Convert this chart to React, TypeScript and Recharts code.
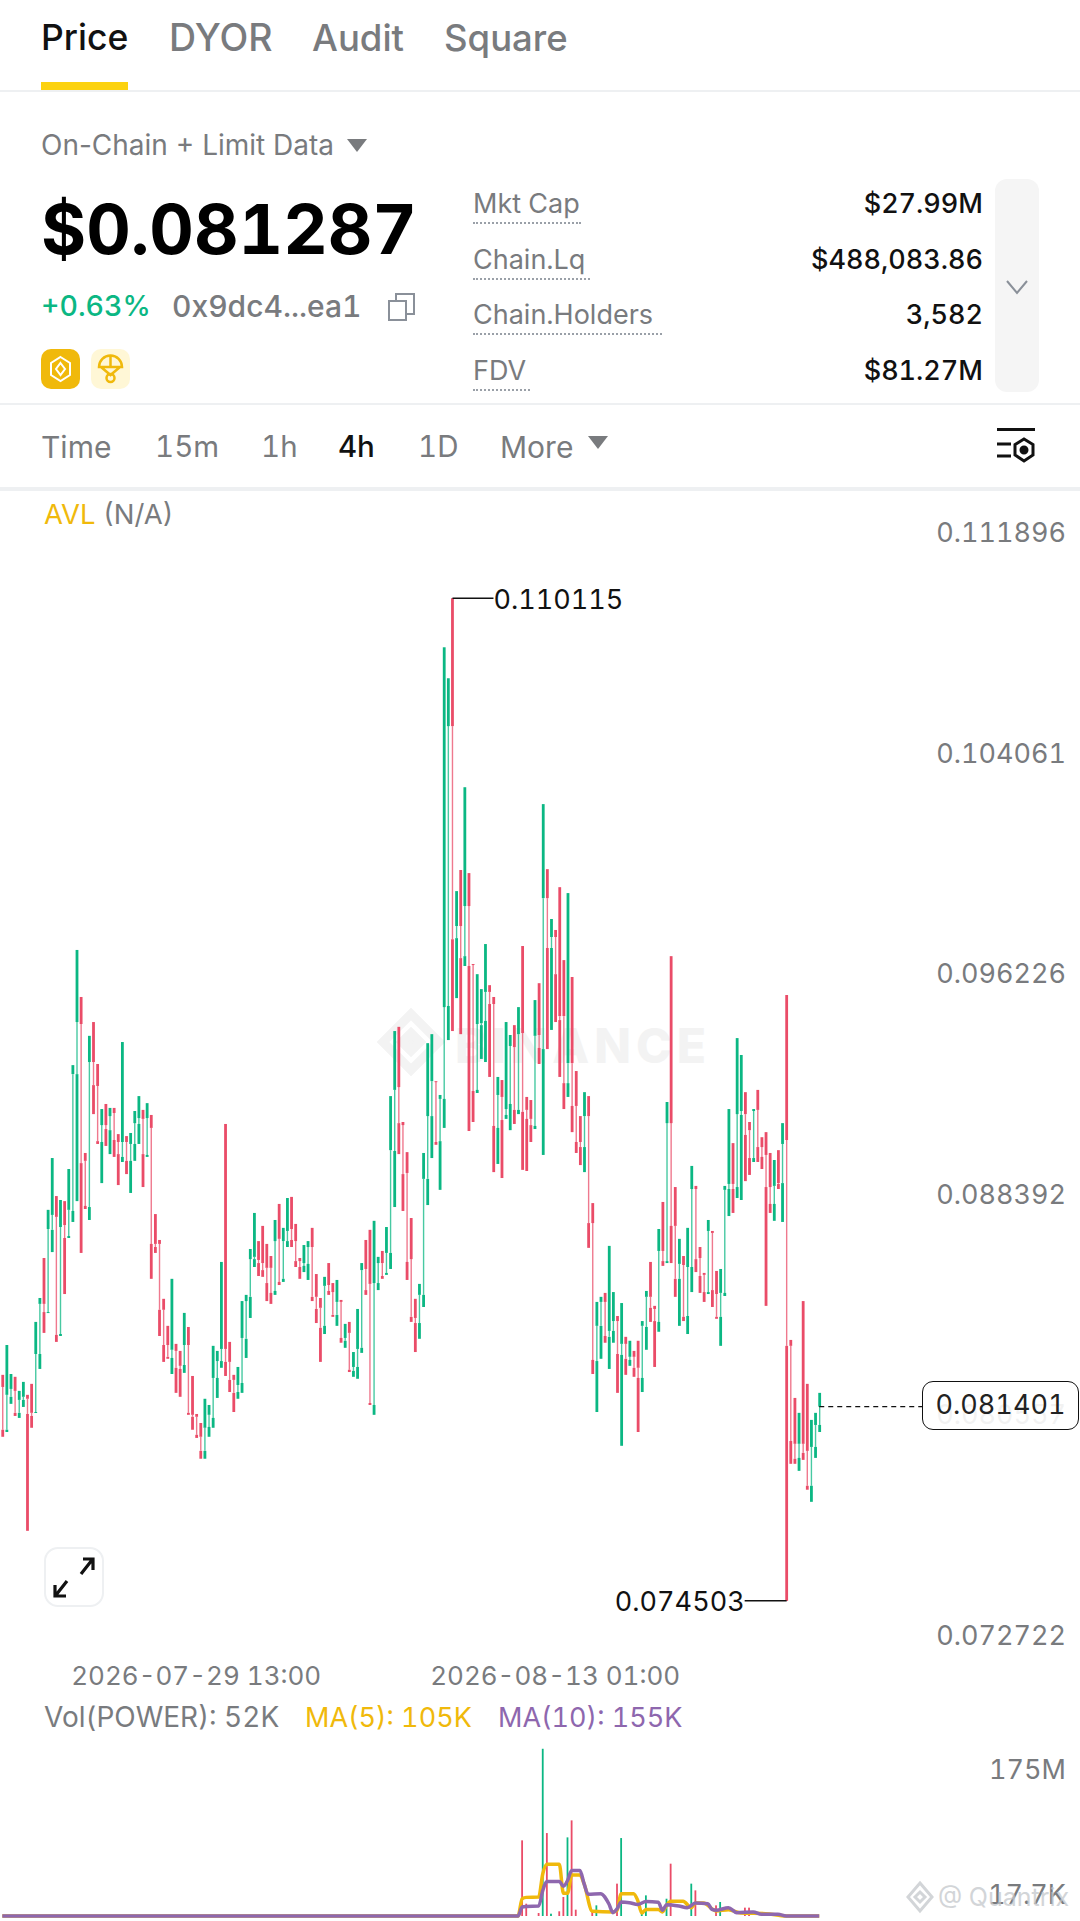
import React from "react";
import { ComposedChart, Bar, Line, XAxis, YAxis, ReferenceLine } from "recharts";

// candle values, in thousandths of a dollar
const highs = [
  82.53,83.59,82.56,82.46,81.96,82.28,81.82,82.21,84.41,85.26,
  86.68,88.39,90.23,88.88,88.74,88.70,89.84,93.53,97.62,95.95,
  90.41,94.57,95.06,93.57,91.97,92.15,92.01,92.01,91.08,94.35,
  91.01,91.12,91.90,92.43,91.94,92.18,91.76,88.24,87.32,85.23,
  84.27,85.94,83.63,83.38,84.73,84.23,82.49,81.14,80.82,81.68,
  81.46,83.56,83.38,86.54,91.44,83.70,82.53,82.81,85.15,85.37,
  87.00,88.28,87.28,87.82,87.18,86.75,88.03,88.60,87.75,88.81,
  88.85,87.89,86.68,87.14,87.28,87.75,86.11,85.26,86.01,86.50,
  85.79,85.90,85.19,84.34,84.41,83.34,84.87,86.50,87.32,87.68,
  88.00,86.72,86.93,87.78,92.43,94.74,94.89,91.51,90.44,88.10,
  85.23,85.76,90.41,94.31,94.63,92.96,92.47,108.37,107.27,110.115,
  99.71,100.46,103.40,100.35,97.12,96.76,96.23,97.83,96.37,95.95,
  93.11,93.00,95.06,94.60,94.95,95.59,97.76,92.40,92.29,95.84,
  96.44,102.80,100.49,98.72,98.33,99.85,97.26,99.64,96.66,93.32,
  91.72,92.57,92.43,88.63,85.12,85.30,85.44,87.11,85.47,84.62,
  85.08,83.88,83.74,83.38,83.74,84.44,85.51,86.54,84.98,87.71,
  88.67,92.22,97.40,89.20,87.36,86.75,87.75,89.95,89.24,87.07,
  86.15,88.03,87.64,86.22,86.29,89.24,91.97,90.76,94.49,93.89,
  92.57,91.51,91.97,92.65,90.97,91.15,90.41,90.16,90.51,91.47,
  96.02,83.77,81.71,81.18,85.15,82.21,80.93,81.18,81.89,
];
const bodyTops = [
  82.10,81.82,82.03,81.96,81.64,81.75,81.68,81.18,83.27,85.05,
  85.05,87.71,88.21,88.14,87.78,87.85,88.39,93.21,95.06,94.99,
  90.13,93.64,93.64,92.79,91.40,91.40,91.72,91.83,90.80,90.80,
  90.80,90.73,91.47,91.65,91.62,91.65,91.30,87.18,87.18,84.84,
  83.59,83.42,83.38,82.85,83.59,83.59,81.11,81.04,80.33,80.65,
  81.11,82.42,83.02,83.45,83.45,82.99,82.35,82.17,83.84,85.15,
  86.64,86.72,86.61,86.50,86.33,86.33,87.28,87.36,87.28,87.64,
  87.71,87.28,86.57,86.50,87.07,87.07,85.30,84.91,85.69,85.72,
  85.47,85.12,85.12,83.84,84.02,82.81,83.45,86.25,86.29,85.76,
  85.79,86.50,86.50,86.86,90.51,92.65,92.75,91.40,89.70,86.64,
  84.55,85.37,89.49,91.72,92.96,92.93,92.33,95.59,105.57,105.57,
  98.47,98.47,99.18,99.18,97.09,94.99,95.02,96.13,96.13,95.70,
  92.47,92.40,91.97,94.21,94.17,94.63,94.67,91.94,91.62,94.57,
  94.60,99.46,99.46,98.08,98.08,95.27,95.27,93.60,93.60,92.08,
  90.80,91.72,91.72,87.92,84.27,85.12,85.12,84.09,84.44,84.44,
  83.63,83.63,83.17,83.17,82.78,84.27,85.30,85.30,84.87,86.93,
  86.93,91.47,91.47,87.82,86.47,86.43,86.36,89.13,89.13,86.68,
  86.08,87.64,87.57,85.40,85.44,89.10,89.31,89.31,91.79,91.90,
  91.79,91.22,91.90,91.94,90.62,90.34,89.20,89.24,89.34,90.73,
  90.87,83.56,80.08,80.08,80.08,79.83,79.97,80.75,81.40,
];
const bodyBottoms = [
  80.58,80.58,81.75,81.18,81.18,81.64,81.14,81.07,81.21,83.27,
  84.76,84.76,87.68,83.95,83.98,87.39,87.46,88.35,93.21,90.05,
  88.53,88.49,92.82,90.83,90.80,91.26,91.22,90.87,90.37,90.27,
  90.13,90.13,90.73,91.44,90.37,90.34,87.18,87.07,84.84,83.59,
  83.17,83.13,82.78,82.74,82.88,81.18,81.04,80.40,79.83,79.83,
  80.68,81.00,82.42,83.02,82.99,82.35,81.89,81.92,82.24,83.81,
  85.30,86.64,86.50,86.25,85.79,85.44,85.51,85.83,85.94,87.28,
  87.32,86.57,86.36,86.40,86.47,85.30,84.87,84.20,84.27,85.51,
  84.66,84.66,83.84,83.74,82.71,82.67,82.81,83.49,85.54,81.53,
  81.46,85.79,86.04,86.15,86.86,90.48,91.47,89.66,86.54,84.59,
  84.37,84.37,85.37,89.49,91.72,90.80,90.83,92.33,95.63,98.00,
  98.04,97.33,97.40,97.05,92.61,92.65,94.95,95.10,95.70,91.37,
  91.30,91.58,91.76,92.15,91.94,91.94,91.87,91.62,91.40,91.37,
  94.14,94.10,97.69,97.69,96.76,95.13,92.89,92.89,92.08,90.80,
  90.62,90.62,87.92,83.06,83.02,84.27,83.91,83.88,84.09,83.27,
  83.24,83.10,83.06,82.78,82.42,82.42,84.23,84.91,84.44,84.41,
  86.57,86.57,87.82,85.94,85.94,84.59,84.62,86.36,86.64,86.04,
  85.47,85.47,85.54,84.59,84.59,85.44,89.13,89.13,89.20,91.76,
  91.05,90.23,90.23,90.62,90.27,89.20,88.60,88.60,89.31,89.34,
  83.56,80.18,79.55,79.58,79.76,78.59,78.59,79.97,80.75,
];
const lows = [
  80.33,80.50,81.50,81.07,81.00,81.39,76.99,80.65,81.18,82.74,
  84.02,84.73,86.89,83.70,83.91,85.40,87.39,87.96,88.70,86.86,
  88.42,88.03,91.79,90.73,89.34,90.66,90.37,90.27,89.27,90.09,
  89.66,88.99,90.13,90.73,89.20,90.27,85.94,86.86,83.91,82.99,
  83.10,82.56,81.89,81.75,82.60,81.11,80.58,80.29,79.55,79.55,
  80.33,80.65,81.71,82.78,82.49,81.92,81.21,81.68,81.89,83.13,
  84.55,86.36,86.04,86.01,85.15,85.05,85.37,85.72,85.83,87.07,
  87.07,86.36,85.94,86.18,85.90,85.15,84.37,82.99,83.98,85.37,
  84.59,84.27,83.67,83.49,82.63,82.46,82.39,83.31,85.37,81.46,
  81.11,85.54,85.94,86.08,86.29,88.49,90.37,88.35,85.90,84.41,
  83.34,83.81,84.94,88.56,90.23,90.70,89.10,91.30,94.42,94.74,
  95.91,94.63,97.05,91.19,91.51,92.54,93.75,93.64,93.11,89.73,
  90.02,89.52,91.62,91.22,91.44,91.79,89.81,89.77,90.80,91.26,
  93.57,90.34,94.10,94.78,95.06,93.11,91.97,92.40,91.15,90.41,
  89.98,89.73,87.04,82.56,81.21,83.10,83.67,82.74,83.67,81.89,
  80.01,82.53,82.85,82.46,80.50,81.92,83.42,84.41,82.81,84.06,
  86.40,86.50,86.50,85.30,84.27,84.44,83.98,85.47,86.18,85.44,
  85.12,85.40,84.94,84.52,83.56,85.33,88.17,88.28,88.81,88.74,
  89.41,89.63,90.09,90.09,89.84,84.98,88.28,88.00,89.13,87.96,
  74.503,79.37,79.37,79.12,79.51,78.45,78.02,79.58,80.50,
];
const directions =
  "RGGRGGRRGG" + "RGGRGRGGGR" + "RGRRGRGRRG" + "RGGGRGRRRR" + "RGRRGRRRRG" +
  "GGGGRRRGGG" + "GGRRRRGRGG" + "RRRGGRRRGR" + "RGRGRGGGRR" + "GGRGGGRRRR" +
  "RGGGGRGGGR" + "GRGRRGGGRR" + "GRGGRGRRRG" + "RGRGRRRGRR" + "RGRRGGRGGR" +
  "GRGRRGGRRG" + "RGRRGRGGRR" + "RGRRGGGRGG" + "RRGRRRRGRG" + "RRRGRRGGG";

const priceTicks = [111.896, 104.061, 96.226, 88.392, 80.557, 72.722];
const lastPrice = 81.401;
const dateTicks = [47, 134];
const dateLabels = ["2026-07-29 13:00", "2026-08-13 01:00"];

// volume, in millions
const volumeIndex = [126,127,130,131,132,133,135,136,137,138,139,143,144,149,150,155,156,161,162,167,168,173,174,180,181];
const volumeValues = [78.8,12.8,3.1,174.2,86.4,2.4,4.9,19.8,81.9,99.6,6.6,4.2,11.1,33.7,81.2,4.2,21.5,18,54.5,33.7,26.7,11.1,14.6,8.7,8.7];
const ma5Index = [0,125,126,127,130,131,132,135,136,137,138,140,141,143,148,149,150,153,154,155,156,159,160,161,162,165,167,168,170,172,173,176,179,185,190,198];
const ma5Values = [0,0,18,19.4,19.8,44,53.8,53.8,23.6,23.6,42.7,42.7,33.7,4.9,4.2,5.9,23.3,23.3,16.3,3.1,6.9,6.9,4.2,11,15.3,15.3,8.7,13.5,13.5,7.6,5.2,6.6,3.1,2.4,0,0];
const ma10Index = [0,125,126,127,130,131,132,135,136,137,138,140,141,142,145,147,148,149,150,152,154,156,159,160,161,164,166,167,168,171,172,173,176,178,182,184,188,190,198];
const ma10Values = [0,0,9.4,10,10.4,26.7,36,36,31,37,47.5,47.5,33.7,22.6,23.3,12.8,3.5,7.6,14.6,13.9,12.1,15,14.3,5.9,11.8,10.4,8.7,11,13.5,12.8,6.9,5.9,8.7,3.5,4.2,1.7,1.7,0,0];
const volumeTicks = [175, 0.0177];
const volumeTickLabels = ["175M", "17.7K"];

const statNames = ["Mkt Cap", "Chain.Lq", "Chain.Holders", "FDV"];
const statValues = ["$27.99M", "$488,083.86", "3,582", "$81.27M"];

const candles = highs.map((high, i) => ({
  i,
  high,
  top: bodyTops[i],
  bottom: bodyBottoms[i],
  low: lows[i],
  up: directions[i] === "G",
}));
const volumeRows = volumeIndex.map((i, k) => ({ i, volume: volumeValues[k], up: directions[i] === "G" }));
const ma5Rows = ma5Index.map((i, k) => ({ i, ma5: ma5Values[k] }));
const ma10Rows = ma10Index.map((i, k) => ({ i, ma10: ma10Values[k] }));

const FONT = "Inter, sans-serif";
const GREEN = "#0BB783";
const RED = "#EA4C68";
const GRAY = "#797B7E";
const YELLOW = "#F0B90B";
const PURPLE = "#8E67AE";
const X_DOMAIN: [number, number] = [-0.557, 261.2];

const maxHigh = Math.max(...highs);
const minLow = Math.min(...lows);

const Candle = (props: any) => {
  const { x, y, width, height, payload } = props;
  const { high, top, bottom, low, up } = payload;
  const cx = x + width / 2;
  const perUnit = height / (high - low);
  const yTop = y + (high - top) * perUnit;
  const yBottom = y + (high - bottom) * perUnit;
  const color = up ? GREEN : RED;
  return (
    <g>
      <line x1={cx} x2={cx} y1={yTop} y2={yBottom} stroke={color} strokeOpacity={0.75} strokeWidth={1.4} />
      <rect x={cx - 1.4} y={y} width={2.8} height={Math.max(yTop - y, 1)} fill={color} />
      <rect x={cx - 1.4} y={yBottom} width={2.8} height={Math.max(y + height - yBottom, 1)} fill={color} />
      {high === maxHigh && (
        <g>
          <line x1={cx} x2={cx + 41} y1={y} y2={y} stroke="#111" strokeWidth={1.5} />
          <text x={cx + 41} y={y + 1} dominantBaseline="central" fontSize={27} fontFamily={FONT} fill="#111">
            {(high / 1000).toFixed(6)}
          </text>
        </g>
      )}
      {low === minLow && (
        <g>
          <line x1={cx} x2={cx - 42} y1={y + height} y2={y + height} stroke="#111" strokeWidth={1.5} />
          <text x={cx - 42} y={y + height + 1} dominantBaseline="central" textAnchor="end" fontSize={27} fontFamily={FONT} fill="#111">
            {(low / 1000).toFixed(6)}
          </text>
        </g>
      )}
    </g>
  );
};

const PriceTick = ({ y, payload }: any) => (
  <text x={1066} y={y - 15.5} textAnchor="end" dominantBaseline="central" fontSize={27} fontFamily={FONT} fill={GRAY}>
    {(payload.value / 1000).toFixed(6)}
  </text>
);

const DateTick = ({ x, y, payload }: any) => (
  <text x={x} y={y + 18} textAnchor="middle" dominantBaseline="central" fontSize={26} fontFamily={FONT} fill={GRAY}>
    {dateLabels[dateTicks.indexOf(payload.value)]}
  </text>
);

const VolumeTick = ({ y, payload }: any) => (
  <text x={1066} y={y + (payload.value > 1 ? 21 : -18)} textAnchor="end" dominantBaseline="central" fontSize={27} fontFamily={FONT} fill={GRAY}>
    {volumeTickLabels[volumeTicks.indexOf(payload.value)]}
  </text>
);

const VolumeBar = (props: any) => {
  const { x, y, width, height, payload } = props;
  return <rect x={x + width / 2 - 0.9} y={y} width={1.8} height={height} fill={payload.up ? GREEN : RED} />;
};

const Txt = ({ x, y, size = 28, color = GRAY, weight = 400, right, plain, children }: any) => (
  <div
    style={{
      position: "absolute",
      top: y,
      ...(right !== undefined ? { right: 1080 - right } : { left: x }),
      transform: "translateY(-50%)",
      fontSize: size,
      color,
      fontWeight: weight,
      whiteSpace: "nowrap",
      lineHeight: 1,
      ...(plain ? { fontVariantNumeric: "normal" } : {}),
    }}
  >
    {children}
  </div>
);

const Rule = ({ y, h = 1.5 }: any) => (
  <div style={{ position: "absolute", left: 0, top: y, width: 1080, height: h, background: "#EEF0F2" }} />
);

const Triangle = ({ x, y }: any) => (
  <svg style={{ position: "absolute", left: x, top: y }} width={20} height={13}>
    <path d="M0 0H20L10 13Z" fill="#797B7E" />
  </svg>
);

const Header = () => (
  <>
    <Txt x={41} y={38} size={35.5} color="#111" weight={500}>Price</Txt>
    <Txt x={169} y={38} size={37.5} weight={500}>DYOR</Txt>
    <Txt x={312} y={38} size={36.5} weight={500}>Audit</Txt>
    <Txt x={444} y={38} size={36.5} weight={500}>Square</Txt>
    <div style={{ position: "absolute", left: 41, top: 82, width: 87, height: 8, background: "#FCD20F" }} />
    <Rule y={90} />

    <Txt x={41} y={145} size={28} plain>On-Chain + Limit Data</Txt>
    <Triangle x={347} y={139} />
    <Txt x={41} y={229} size={69} color="#000" weight={700}>$0.081287</Txt>
    <Txt x={41} y={306} size={28.5} color={GREEN} weight={500}>+0.63%</Txt>
    <Txt x={172} y={306} size={30} weight={500}>0x9dc4...ea1</Txt>
    <svg style={{ position: "absolute", left: 387, top: 292 }} width={30} height={30} fill="none" stroke="#8a9099" strokeWidth={2}>
      <rect x={2} y={9} width={17} height={19} />
      <path d="M9 9V2H27V22H19" />
    </svg>
    <div style={{ position: "absolute", left: 41, top: 349, width: 39, height: 40, borderRadius: 10, background: YELLOW }}>
      <svg width={39} height={40} fill="none" stroke="#fff" strokeWidth={2}>
        <path d="M19.5 8L29 14V26L19.5 32L10 26V14Z M19.5 14L24 20L19.5 26L15 20Z" />
      </svg>
    </div>
    <div style={{ position: "absolute", left: 91, top: 349, width: 39, height: 40, borderRadius: 10, background: "#FFF7D6" }}>
      <svg width={39} height={40} fill="none" stroke={YELLOW} strokeWidth={2.5}>
        <path d="M8 18A11.5 11.5 0 0 1 31 18Z M19.5 7V18 M10 18L19.5 26L29 18" />
        <circle cx={19.5} cy={29} r={4} />
      </svg>
    </div>

    {statNames.map((name, k) => {
      const y = 203 + k * 55.5;
      const widths = [108, 117, 189, 57];
      return (
        <React.Fragment key={name}>
          <Txt x={473} y={y} size={27}>{name}</Txt>
          <div style={{ position: "absolute", left: 473, top: y + 19, width: widths[k], borderTop: "2px dotted #9aa0a8" }} />
          <Txt right={983} y={y} size={27} color="#111" weight={500}>{statValues[k]}</Txt>
        </React.Fragment>
      );
    })}
    <div style={{ position: "absolute", left: 995, top: 179, width: 44, height: 213, borderRadius: 12, background: "#F5F5F5" }} />
    <svg style={{ position: "absolute", left: 1005, top: 278 }} width={24} height={18} fill="none" stroke="#8a9099" strokeWidth={2}>
      <path d="M2 3L12 15L22 3" />
    </svg>
    <Rule y={403} />

    <Txt x={41} y={447} size={30}>Time</Txt>
    <Txt x={155} y={447} size={29.5}>15m</Txt>
    <Txt x={261} y={447} size={29.5}>1h</Txt>
    <Txt x={338} y={447} size={29.5} color="#111" weight={500}>4h</Txt>
    <Txt x={418} y={447} size={29.5}>1D</Txt>
    <Txt x={500} y={447} size={30}>More</Txt>
    <Triangle x={588} y={436} />
    <svg style={{ position: "absolute", left: 995, top: 426 }} width={42} height={38} fill="none" stroke="#111" strokeWidth={3}>
      <path d="M2 3.5H40 M2 18H16 M2 30H16" />
      <path d="M29 13L38 18.5V29L29 35L20 29V18.5Z" />
      <circle cx={29} cy={24} r={3} fill="#111" />
    </svg>
    <Rule y={487} h={4} />

    <Txt x={44} y={515} size={27.5} color={YELLOW}>AVL <span style={{ color: GRAY }}>(N/A)</span></Txt>

    <svg style={{ position: "absolute", left: 375, top: 1008 }} width={70} height={68} fill="none" stroke="#F3F3F3" strokeWidth={9}>
      <path d="M36 6L64 34L36 62L8 34Z" />
      <path d="M36 25L45 34L36 43L27 34Z" fill="#F3F3F3" />
    </svg>
    <div style={{ position: "absolute", left: 455, top: 1022, fontSize: 48, fontWeight: 800, letterSpacing: 5, color: "#F3F3F3", lineHeight: 1 }}>BINANCE</div>

    <div style={{ position: "absolute", left: 44, top: 1547, width: 60, height: 60, boxSizing: "border-box", borderRadius: 14, border: "2px solid #EEF0F2", background: "#fff" }}>
      <svg width={56} height={56} fill="none" stroke="#111" strokeWidth={3.2}>
        <path d="M35 25L46 11 M37 10H47V21 M21 32L10 46 M9 36V47H20" />
      </svg>
    </div>

    <Txt x={44} y={1717} size={28}>Vol(POWER): 52K</Txt>
    <Txt x={305} y={1717} size={27} color={YELLOW}>MA(5): 105K</Txt>
    <Txt x={498} y={1717} size={27} color={PURPLE}>MA(10): 155K</Txt>
  </>
);

const App = () => (
  <div style={{ position: "absolute", left: 0, top: 0, width: 1080, height: 1921, overflow: "hidden", background: "#fff", fontFamily: FONT, fontVariantNumeric: "tabular-nums" }}>
    <Header />

    <div style={{ position: "absolute", left: 0, top: 490 }}>
      <ComposedChart
        width={1080}
        height={1210}
        data={candles}
        margin={{ top: 58, right: 0, bottom: 0, left: 0 }}
      >
        <XAxis
          dataKey="i"
          type="number"
          domain={X_DOMAIN}
          ticks={dateTicks}
          tick={DateTick}
          tickLine={false}
          axisLine={false}
          height={49}
          tickMargin={0}
        />
        <YAxis
          orientation="right"
          mirror
          width={1}
          domain={[72.722, 111.896]}
          ticks={priceTicks}
          tick={PriceTick}
          tickLine={false}
          axisLine={false}
        />
        <Bar
          dataKey={(d: any) => [d.low, d.high]}
          barSize={3}
          shape={Candle}
          isAnimationActive={false}
        />
        <ReferenceLine
          segment={[{ x: 198, y: lastPrice }, { x: 223.5, y: lastPrice }]}
          stroke="#111"
          strokeWidth={1.3}
          strokeDasharray="5 4"
        />
      </ComposedChart>
    </div>

    <div
      style={{
        position: "absolute",
        left: 922,
        top: 1381,
        width: 157,
        height: 49,
        boxSizing: "border-box",
        border: "1.5px solid #111",
        borderRadius: 11,
        background: "rgba(255,255,255,0.9)",
        textAlign: "center",
        lineHeight: "46px",
        fontSize: 27,
        color: "#222",
      }}
    >
      {(lastPrice / 1000).toFixed(6)}
    </div>

    <div style={{ position: "absolute", left: 0, top: 1730 }}>
      <ComposedChart
        width={1080}
        height={191}
        data={volumeRows}
        margin={{ top: 18, right: 0, bottom: 5, left: 0 }}
      >
        <XAxis dataKey="i" type="number" domain={X_DOMAIN} hide height={0} />
        <YAxis
          orientation="right"
          mirror
          width={1}
          domain={[0, 175]}
          ticks={volumeTicks}
          tick={VolumeTick}
          tickLine={false}
          axisLine={false}
        />
        <Bar dataKey="volume" barSize={2} shape={VolumeBar} isAnimationActive={false} />
        <Line data={ma5Rows} dataKey="ma5" type="monotone" stroke={YELLOW} strokeWidth={3.5} dot={false} isAnimationActive={false} />
        <Line data={ma10Rows} dataKey="ma10" type="monotone" stroke={PURPLE} strokeWidth={3.5} dot={false} isAnimationActive={false} />
      </ComposedChart>
    </div>

    <div style={{ position: "absolute", left: 905, top: 1880, display: "flex", alignItems: "center", whiteSpace: "nowrap", opacity: 0.75, color: "#C4C7CB", fontSize: 25, lineHeight: 1 }}>
      <svg width={30} height={34} fill="none" stroke="#C4C7CB" strokeWidth={3} style={{ flexShrink: 0 }}>
        <path d="M15 3L27 17L15 31L3 17Z M15 12L20 17L15 22L10 17Z" />
      </svg>
      <span style={{ marginLeft: 3 }}>@ Quantrix</span>
    </div>
  </div>
);

export default App;
